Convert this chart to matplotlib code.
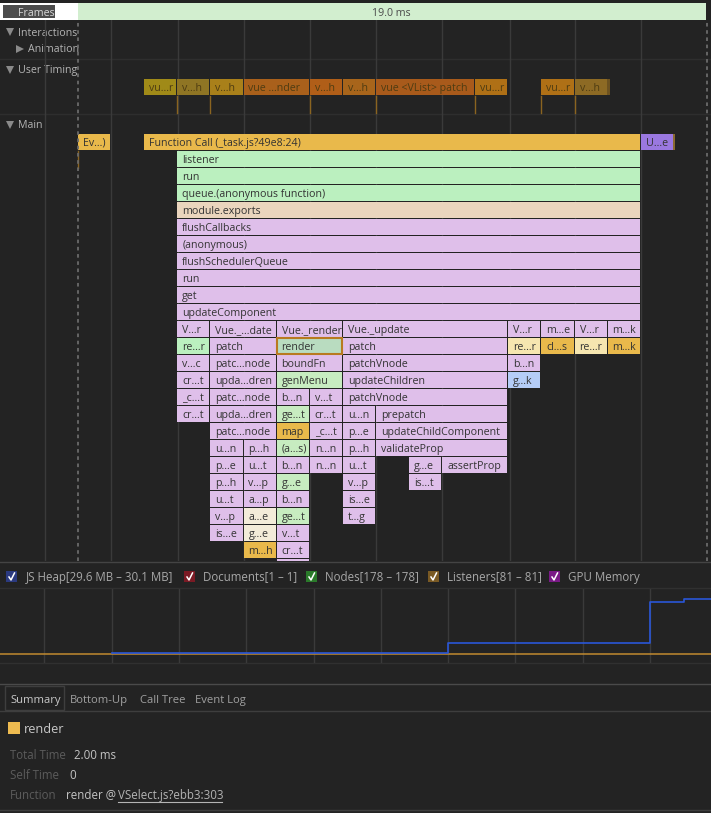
import matplotlib
matplotlib.use("Agg")

import matplotlib.pyplot as plt
from matplotlib.patches import Rectangle

WIDTH, HEIGHT = 711, 813
FONT = "Open Sans"
BG = "#232323"
GRID = "#3a3a3a"
INK = "#333333"
SMALL = 7.7

PURPLE = "#dfbfea"
GREEN = "#bbf0bf"
PALE_GREEN = "#c7ecc0"
ORANGE = "#e9b94b"
CREAM = "#f6e6b0"
PALE = "#f3ecd9"
BLUE = "#b5cdf7"
TAN = "#ead5bd"
VIOLET = "#9a78e0"

FRAME_MS = 19.0
GRID_MS = [-1, 1.0, 3.02, 5.03, 7.02, 9.0, 11.0, 13.05, 15.03, 17.02]
COUNTER_GRID_MS = [-1, 1, 3, 5, 7, 9, 11, 13, 15, 17]

# label, start ms, end ms, colour
USER_TIMING = [
    ("vu...r", 2, 3, "#a08a18"), ("v...h", 3, 4, "#8f7524"), ("v...h", 4, 5, "#a9801a"),
    ("vue ...nder", 5, 7, "#a9601b"), ("v...h", 7, 8, "#b05e18"), ("v...h", 8, 9, "#a8651b"),
    ("vue <VList> patch", 9, 12, "#a85a1b"), ("vu...r", 12, 13, "#af7016"),
    ("vu...r", 14, 15, "#af7016"), ("v...h", 15, 16, "#8d6a24"),
]
TIMING_TICKS = [3, 4, 7, 9, 12, 14, 15]

# row, label, start ms, end ms, colour
FLAME = [
    (0, "Ev...)", 0, 1, ORANGE), (0, "Function Call (_task.js?49e8:24)", 2, 17, ORANGE), (0, "U...e", 17, 18, VIOLET),
    (1, "listener", 3, 17, GREEN), (2, "run", 3, 17, GREEN), (3, "queue.(anonymous function)", 3, 17, GREEN),
    (4, "module.exports", 3, 17, TAN), (5, "flushCallbacks", 3, 17, PURPLE), (6, "(anonymous)", 3, 17, PURPLE),
    (7, "flushSchedulerQueue", 3, 17, PURPLE), (8, "run", 3, 17, PURPLE), (9, "get", 3, 17, PURPLE),
    (10, "updateComponent", 3, 17, PURPLE),
    (11, "V...r", 3, 4, PURPLE), (11, "Vue._...date", 4, 6, PURPLE), (11, "Vue._render", 6, 8, PURPLE),
    (11, "Vue._update", 8, 13, PURPLE), (11, "V...r", 13, 14, PURPLE), (11, "m...e", 14, 15, PURPLE),
    (11, "V...r", 15, 16, PURPLE), (11, "m...k", 16, 17, PURPLE),
    (12, "re...r", 3, 4, GREEN), (12, "patch", 4, 6, PURPLE), (12, "patch", 8, 13, PURPLE),
    (12, "re...r", 13, 14, CREAM), (12, "cl...s", 14, 15, ORANGE), (12, "re...r", 15, 16, CREAM), (12, "m...k", 16, 17, ORANGE),
    (13, "v...c", 3, 4, PURPLE), (13, "patc...node", 4, 6, PURPLE), (13, "boundFn", 6, 8, PURPLE),
    (13, "patchVnode", 8, 13, PURPLE), (13, "b...n", 13, 14, PURPLE),
    (14, "cr...t", 3, 4, PURPLE), (14, "upda...dren", 4, 6, PURPLE), (14, "genMenu", 6, 8, PALE_GREEN),
    (14, "updateChildren", 8, 13, PURPLE), (14, "g...k", 13, 14, BLUE),
    (15, "_c...t", 3, 4, PURPLE), (15, "patc...node", 4, 6, PURPLE), (15, "b...n", 6, 7, PURPLE),
    (15, "v...t", 7, 8, PURPLE), (15, "patchVnode", 8, 13, PURPLE),
    (16, "cr...t", 3, 4, PURPLE), (16, "upda...dren", 4, 6, PURPLE), (16, "ge...t", 6, 7, PALE_GREEN),
    (16, "cr...t", 7, 8, PURPLE), (16, "u...n", 8, 9, PURPLE), (16, "prepatch", 9, 13, PURPLE),
    (17, "patc...node", 4, 6, PURPLE), (17, "map", 6, 7, ORANGE), (17, "_c...t", 7, 8, PURPLE),
    (17, "p...e", 8, 9, PURPLE), (17, "updateChildComponent", 9, 13, PURPLE),
    (18, "u...n", 4, 5, PURPLE), (18, "p...h", 5, 6, PURPLE), (18, "(a...s)", 6, 7, PALE_GREEN),
    (18, "n...n", 7, 8, PURPLE), (18, "p...h", 8, 9, PURPLE), (18, "validateProp", 9, 13, PURPLE),
    (19, "p...e", 4, 5, PURPLE), (19, "u...t", 5, 6, PURPLE), (19, "b...n", 6, 7, PURPLE), (19, "n...n", 7, 8, PURPLE),
    (19, "u...t", 8, 9, PURPLE), (19, "g...e", 10, 11, PURPLE), (19, "assertProp", 11, 13, PURPLE),
    (20, "p...h", 4, 5, PURPLE), (20, "v...p", 5, 6, PURPLE), (20, "g...e", 6, 7, PALE_GREEN),
    (20, "v...p", 8, 9, PURPLE), (20, "is...t", 10, 11, PURPLE),
    (21, "u...t", 4, 5, PURPLE), (21, "a...p", 5, 6, PURPLE), (21, "b...n", 6, 7, PURPLE), (21, "is...e", 8, 9, PURPLE),
    (22, "v...p", 4, 5, PURPLE), (22, "a...e", 5, 6, PALE), (22, "ge...t", 6, 7, PALE_GREEN), (22, "t...g", 8, 9, PURPLE),
    (23, "is...e", 4, 5, PURPLE), (23, "g...e", 5, 6, PALE), (23, "v...t", 6, 7, PURPLE),
    (24, "m...h", 5, 6, ORANGE), (24, "cr...t", 6, 7, PURPLE),
    (25, "", 6, 7, PURPLE),
]
SELECTED = (12, "render", 6, 8)

HEAP_MS = [1, 11, 17, 18, 19.2]
HEAP_MB = [29.6, 29.69, 30.07, 30.1, 30.1]

COUNTERS = [
    ("JS Heap[29.6 MB \u2013 30.1 MB]", 6, 26, "#2b3a80"),
    ("Documents[1 \u2013 1]", 184, 203, "#7a1a24"),
    ("Nodes[178 \u2013 178]", 306, 325, "#2a7a2a"),
    ("Listeners[81 \u2013 81]", 428, 447, "#7a5a24"),
    ("GPU Memory", 549, 568, "#7a1a86"),
]
TABS = [("Summary", 10, "#c8c8c8"), ("Bottom-Up", 70, "#a0a0a0"), ("Call Tree", 140, "#a0a0a0"), ("Event Log", 195, "#a0a0a0")]
SECTIONS = [("Interactions", 18, 33), ("Animation", 28, 50), ("User Timing", 18, 71), ("Main", 18, 126)]
SUMMARY = [
    ("Total Time", "2.00 ms", 755, 74),
    ("Self Time", "0", 775, 69),
]

fig = plt.figure(figsize=(WIDTH / 100, HEIGHT / 100), dpi=100, facecolor=BG)

# pixel axes for the window chrome
ax = fig.add_axes([0, 0, 1, 1])
ax.set_xlim(0, WIDTH)
ax.set_ylim(HEIGHT, 0)
ax.axis("off")


def label(axis, x, y, s, size=8.3, color="#b4b4b4", **kw):
    return axis.text(x, y, s, fontsize=size, color=color, family=FONT, va="center", ha="left", **kw)


# frames strip
ax.add_patch(Rectangle((78, 3), 628, 17, fc="#d2eecf", lw=0))
ax.add_patch(Rectangle((0, 3), 78, 17, fc="white", lw=0))
ax.add_patch(Rectangle((3, 5), 52, 13, fc="#4c4c4c", lw=0))
label(ax, 18, 13, "Frames", size=SMALL, color="#d8d8d8")
ax.text(391, 13, f"{FRAME_MS} ms", fontsize=SMALL, color="#4a4a4a", family=FONT, ha="center", va="center")

for y in [59, 114]:
    ax.plot([0, WIDTH], [y, y], color="#2e2e2e", lw=1)

for s, x, y in SECTIONS:
    label(ax, x, y, s, size=SMALL)
for x, y in [(10, 32), (10, 70), (10, 125)]:
    ax.plot(x, y, marker="v", ms=6, color="#8a8a8a", mew=0)
ax.plot(20, 49, marker=">", ms=6, color="#8a8a8a", mew=0)

# flame chart, x in ms and y in rows
top, bottom = 20, 561
px_ms = 33.1
flame_ax = fig.add_axes([0, 1 - bottom / HEIGHT, 1, (bottom - top) / HEIGHT])
flame_ax.set_xlim(-78 / px_ms, (WIDTH - 78) / px_ms)
flame_ax.set_ylim((bottom - 134) / 17, (top - 134) / 17)
flame_ax.axis("off")
flame_ax.patch.set_alpha(0)

for t in GRID_MS:
    flame_ax.axvline(t, color=GRID, lw=1, zorder=0)
for t in [0, FRAME_MS]:
    flame_ax.axvline(t, color="#6a6a6a", lw=1.3, ls=(0, (2, 2)), zorder=4)

gap = 1 / px_ms
TIMING_ROW = -3.235
TEXT_OFFSET = 0.54
for s, t0, t1, color in USER_TIMING:
    flame_ax.add_patch(Rectangle((t0, TIMING_ROW), t1 - t0 - gap, 16 / 17, fc=color, lw=0, zorder=2))
    label(flame_ax, t0 + 5 / px_ms, TIMING_ROW + TEXT_OFFSET, s, size=SMALL, color="#4e3c12", zorder=3)
for t in TIMING_TICKS:
    flame_ax.plot([t, t], [TIMING_ROW + 1, TIMING_ROW + 1.98], color="#8a6420", lw=1, zorder=2)
flame_ax.add_patch(Rectangle((16 - gap, TIMING_ROW), 0.1, 16 / 17, fc="#6d5220", lw=0, zorder=2))

for row, s, t0, t1, color in FLAME:
    flame_ax.add_patch(Rectangle((t0, row), t1 - t0 - gap, 16 / 17, fc=color, lw=0, zorder=2))
    if s:
        label(flame_ax, t0 + 5 / px_ms, row + TEXT_OFFSET, s, size=SMALL, color=INK, zorder=3)
flame_ax.add_patch(Rectangle((18 - gap, 0), 0.08, 16 / 17, fc="#8a6a30", lw=0, zorder=2))
flame_ax.plot([0, 0], [1, 2], color="#8a6420", lw=1, zorder=2)

row, s, t0, t1 = SELECTED
flame_ax.add_patch(Rectangle((t0, row), t1 - t0 - gap, 16 / 17, fc="#b9dcc0", ec="#b87a20", lw=1.5, zorder=3))
label(flame_ax, t0 + 5 / px_ms, row + TEXT_OFFSET, s, size=SMALL, color=INK, zorder=4)

# counters
ax.plot([0, WIDTH], [562, 562], color="#444444", lw=1)
ax.plot([0, WIDTH], [588, 588], color="#303030", lw=1)
ax.plot([0, WIDTH], [663, 663], color="#303030", lw=1)
for s, box_x, text_x, color in COUNTERS:
    ax.add_patch(Rectangle((box_x, 571), 11, 11, fc=color, lw=0))
    ax.plot([box_x + 3, box_x + 5, box_x + 8.5], [577, 580, 573], color="white", lw=1.1)
    label(ax, text_x, 577, s, color="#a8a8a8")

graph_top, graph_bottom = 589, 663
counter_px = 33.65
heap_ax = fig.add_axes([0, 1 - graph_bottom / HEIGHT, 1, (graph_bottom - graph_top) / HEIGHT])
heap_ax.set_xlim(-78 / counter_px, (WIDTH - 78) / counter_px)
# 29.6 MB sits at y=652.5 and 30.1 MB at y=599
mb_px = (652.5 - 599) / 0.5
heap_ax.set_ylim(29.6 - (graph_bottom - 652.5) / mb_px, 29.6 + (652.5 - graph_top) / mb_px)
heap_ax.axis("off")
heap_ax.patch.set_alpha(0)
for t in COUNTER_GRID_MS:
    heap_ax.axvline(t, color=GRID, lw=1, zorder=0)
heap_ax.step(HEAP_MS, HEAP_MB, where="post", color="#2a56d8", lw=1.2, zorder=3)
listener_y = 29.6 - (653.8 - 652.5) / mb_px
heap_ax.plot([-78 / counter_px, (WIDTH - 78) / counter_px], [listener_y, listener_y], color="#c08a30", lw=1.1, zorder=2)

# summary panel
ax.plot([0, WIDTH], [683.5, 683.5], color="#4a4a4a", lw=1)
ax.plot([0, WIDTH], [710.5, 710.5], color="#3e3e3e", lw=1)
ax.add_patch(Rectangle((5, 686), 59, 24, fc="#222222", ec="#3e3e3e", lw=1))
for s, x, color in TABS:
    label(ax, x, 700, s, size=8.1, color=color)
ax.add_patch(Rectangle((8, 722), 12, 12, fc="#eebb50", lw=0))
label(ax, 24, 729, "render", size=9.2, color="#c8c8c8")
for name, value, y, x in SUMMARY:
    label(ax, 10, y, name, color="#5c5c5c")
    label(ax, x, y, value, color="#c4c4c4")
label(ax, 10, 795, "Function", color="#5c5c5c")
label(ax, 66, 795, "render @ ", color="#c4c4c4")
label(ax, 118, 795, "VSelect.js?ebb3:303", color="#b4b4b4")
ax.plot([118, 222], [802, 802], color="#b4b4b4", lw=0.8)
ax.plot([0, WIDTH], [809.5, 809.5], color="#3e3e3e", lw=1)

fig.savefig("out.png", dpi=100, facecolor=BG)
plt.close(fig)
